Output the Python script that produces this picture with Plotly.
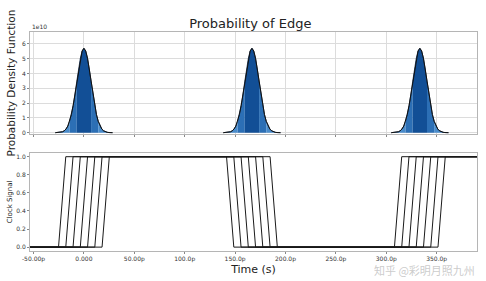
import plotly.graph_objects as go
from plotly.subplots import make_subplots

# ---- data ----
edge_centers_ps = [0.0, 166.7, 333.3]          # mean time of each clock edge
edge_directions = ["rise", "fall", "rise"]
jitter_offsets_ps = [-21.6, -14.4, -7.2, 0.0, 7.2, 14.4, 21.6]   # -3σ .. +3σ
rise_time_ps = 7.2
sigma_ps = 7.1
# PDF shape, sampled at offsets in units of sigma (values in 1e10)
pdf_offsets_sigma = [-4, -3.75, -3.5, -3.25, -3, -2.75, -2.5, -2.25, -2, -1.75, -1.5, -1.25, -1,
                     -0.75, -0.5, -0.25, 0, 0.25, 0.5, 0.75, 1, 1.25, 1.5, 1.75, 2, 2.25, 2.5,
                     2.75, 3, 3.25, 3.5, 3.75, 4]
pdf_values_e10 = [0.002, 0.005, 0.012, 0.029, 0.063, 0.13, 0.25, 0.45, 0.77, 1.23, 1.85, 2.61, 3.46,
                  4.30, 5.03, 5.52, 5.70, 5.52, 5.03, 4.30, 3.46, 2.61, 1.85, 1.23, 0.77, 0.45, 0.25,
                  0.13, 0.063, 0.029, 0.012, 0.005, 0.002]
band_edges_sigma = [-4, -2, -1, 1, 2, 4]
band_colors = ["#4a8ccb", "#2c6fb5", "#124f96", "#2c6fb5", "#4a8ccb"]
x_tick_ps = [-50, 0, 50, 100, 150, 200, 250, 300, 350]
x_tick_text = ["-50.00p", "0.000", "50.00p", "100.0p", "150.0p", "200.0p", "250.0p", "300.0p", "350.0p"]
y_top_ticks = [0, 1, 2, 3, 4, 5, 6]
y_bot_ticks = [0.0, 0.2, 0.4, 0.6, 0.8, 1.0]
y_bot_text = ["0.0", "0.2", "0.4", "0.6", "0.8", "1.0"]
x_range_ps = [-53.5, 390.0]

fig = make_subplots(rows=2, cols=1, shared_xaxes=True, vertical_spacing=0.085,
                    row_heights=[0.51, 0.49])

# ---- top: probability density of each edge ----
for c in edge_centers_ps:
    for b in range(len(band_colors)):
        lo, hi = band_edges_sigma[b], band_edges_sigma[b + 1]
        xs = [c + o * sigma_ps for o in pdf_offsets_sigma if lo <= o <= hi]
        ys = [v for o, v in zip(pdf_offsets_sigma, pdf_values_e10) if lo <= o <= hi]
        fig.add_trace(go.Scatter(x=xs, y=ys, mode="lines", fill="tozeroy",
                                 fillcolor=band_colors[b],
                                 line=dict(color="#0b2545", width=0.8),
                                 showlegend=False, hoverinfo="skip"), row=1, col=1)
    fig.add_trace(go.Scatter(x=[c + o * sigma_ps for o in pdf_offsets_sigma], y=pdf_values_e10,
                             mode="lines", line=dict(color="#111111", width=1),
                             showlegend=False, hoverinfo="skip"), row=1, col=1)

# ---- bottom: clock waveforms, one per jitter offset ----
for off in jitter_offsets_ps:
    xs = [x_range_ps[0] - 5]
    ys = [0.0]
    level = 0.0
    for c, d in zip(edge_centers_ps, edge_directions):
        t = c + off
        new = 1.0 if d == "rise" else 0.0
        xs += [t - rise_time_ps / 2, t + rise_time_ps / 2]
        ys += [level, new]
        level = new
    xs.append(x_range_ps[1] + 5)
    ys.append(level)
    fig.add_trace(go.Scatter(x=xs, y=ys, mode="lines", line=dict(color="#1a1a1a", width=1),
                             showlegend=False, hoverinfo="skip"), row=2, col=1)

axis_common = dict(showline=True, linecolor="#b5b5b5", linewidth=1, mirror=True,
                   ticks="outside", ticklen=2, tickcolor="#888", zeroline=False,
                   tickfont=dict(family="DejaVu Sans", size=6, color="#333"))

fig.update_xaxes(range=x_range_ps, tickvals=x_tick_ps, ticktext=x_tick_text, **axis_common)
fig.update_xaxes(showgrid=True, gridcolor="#dcdcdc", gridwidth=1, showticklabels=False, row=1, col=1)
fig.update_xaxes(showgrid=False, row=2, col=1,
                 title=dict(text="Time (s)", standoff=2,
                            font=dict(family="DejaVu Sans", size=11, color="#222")))
fig.update_yaxes(**axis_common)
fig.update_yaxes(range=[-0.1, 6.8], tickvals=y_top_ticks, showgrid=True, gridcolor="#dcdcdc",
                 row=1, col=1,
                 title=dict(text="Probability Density Function", standoff=4,
                            font=dict(family="DejaVu Sans", size=10.5, color="#222")))
fig.update_yaxes(range=[-0.043, 1.043], tickvals=y_bot_ticks, ticktext=y_bot_text, showgrid=False,
                 row=2, col=1,
                 title=dict(text="Clock Signal", standoff=2,
                            font=dict(family="DejaVu Sans", size=7, color="#222")))

fig.update_layout(
    width=486, height=281,
    margin=dict(l=30, r=8, t=32, b=26),
    paper_bgcolor="white", plot_bgcolor="white",
    title=dict(text="Probability of Edge", x=0.515, xanchor="center", y=0.915, yanchor="middle",
               font=dict(family="DejaVu Sans", size=13, color="#222")),
    annotations=[
        dict(text="1e10", xref="paper", yref="paper", x=0, y=1.0, xanchor="left", yanchor="bottom",
             showarrow=False, font=dict(family="DejaVu Sans", size=6, color="#333")),
        dict(text="知乎 @彩明月照九州", xref="paper", yref="paper", x=1.0, y=-0.04,
             xanchor="right", yanchor="top", showarrow=False,
             font=dict(family="Noto Sans CJK SC", size=11, color="rgba(190,190,190,0.8)")),
    ],
)

fig.write_html("out.html")
